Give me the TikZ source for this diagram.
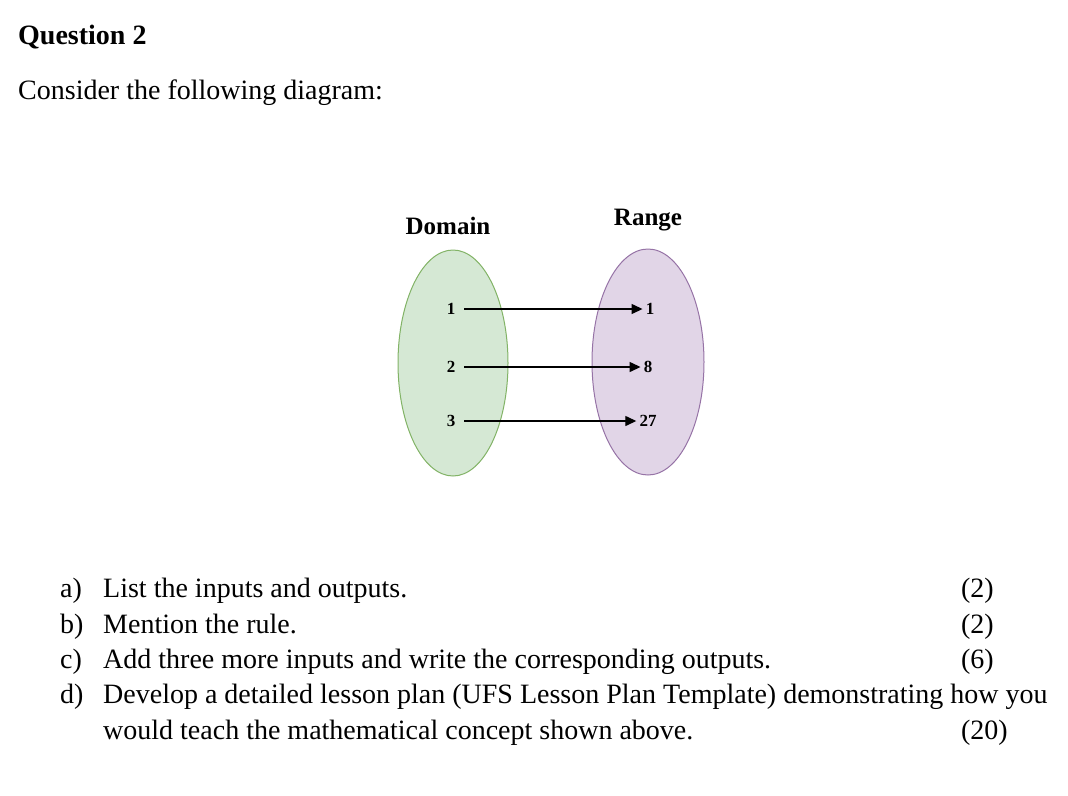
\documentclass[tikz,border=0pt]{standalone}
\usepackage{fontspec}
\setmainfont{Liberation Serif}
\usetikzlibrary{arrows.meta}
\definecolor{gfill}{HTML}{D5E8D4}\definecolor{gline}{HTML}{82B366}
\definecolor{pfill}{HTML}{E1D5E7}\definecolor{pline}{HTML}{9673A6}
\tikzset{
 big/.style={font=\fontsize{28}{32}\selectfont, anchor=base west, inner sep=0},
 small/.style={font=\fontsize{17}{19}\selectfont\bfseries, inner sep=1pt},
 lab/.style={font=\fontsize{25}{28}\selectfont\bfseries},
 arr/.style={-{Triangle[length=11pt,width=10pt]}, line width=1.3pt}
}
\begin{document}
\begin{tikzpicture}[x=1pt,y=-1pt]
\useasboundingbox (0,0) rectangle (1068,795);
\clip (0,0) rectangle (1068,795);
\node[big,font=\fontsize{28}{32}\selectfont\bfseries] (q) at (18,44) {Question 2};
\node[big] (c) at (18,99) {Consider the following diagram:};
\draw[gline, fill=gfill, line width=1pt] (453,363) ellipse [x radius=55, y radius=113];
\draw[pline, fill=pfill, line width=1pt] (648,362) ellipse [x radius=56, y radius=113];
\node[lab] (dom) at (448,226) {Domain};
\node[lab] (ran) at (648,220) {Range};
\node[small] (d1) at (451,309) {1};
\node[small] (d2) at (451,367) {2};
\node[small] (d3) at (451,421) {3};
\node[small] (r1) at (650,309) {1};
\node[small] (r2) at (648,367) {8};
\node[small] (r3) at (648,421) {27};
\draw[arr] (d1.east)++(8,0) -- ([xshift=-2pt]r1.west);
\draw[arr] (d2.east)++(8,0) -- ([xshift=-2pt]r2.west);
\draw[arr] (d3.east)++(8,0) -- ([xshift=-2pt]r3.west);
\foreach \y/\l/\t/\m in {597/a)/List the inputs and outputs./(2),
 633/b)/Mention the rule./(2),
 668/c)/Add three more inputs and write the corresponding outputs./(6)}{
 \node[big] at (60,\y) {\l};
 \node[big] at (103,\y) {\t};
 \node[big,anchor=base east] at (994,\y) {\m};
}
\node[big] (da) at (60,703) {d)};
\node[big] (dt) at (103,703) {Develop a detailed lesson plan (UFS Lesson Plan Template) demonstrating how you};
\node[big] (dt2) at (103,739) {would teach the mathematical concept shown above.};
\node[big,anchor=base east] (dm) at (1008,739) {(20)};
\end{tikzpicture}
\end{document}
